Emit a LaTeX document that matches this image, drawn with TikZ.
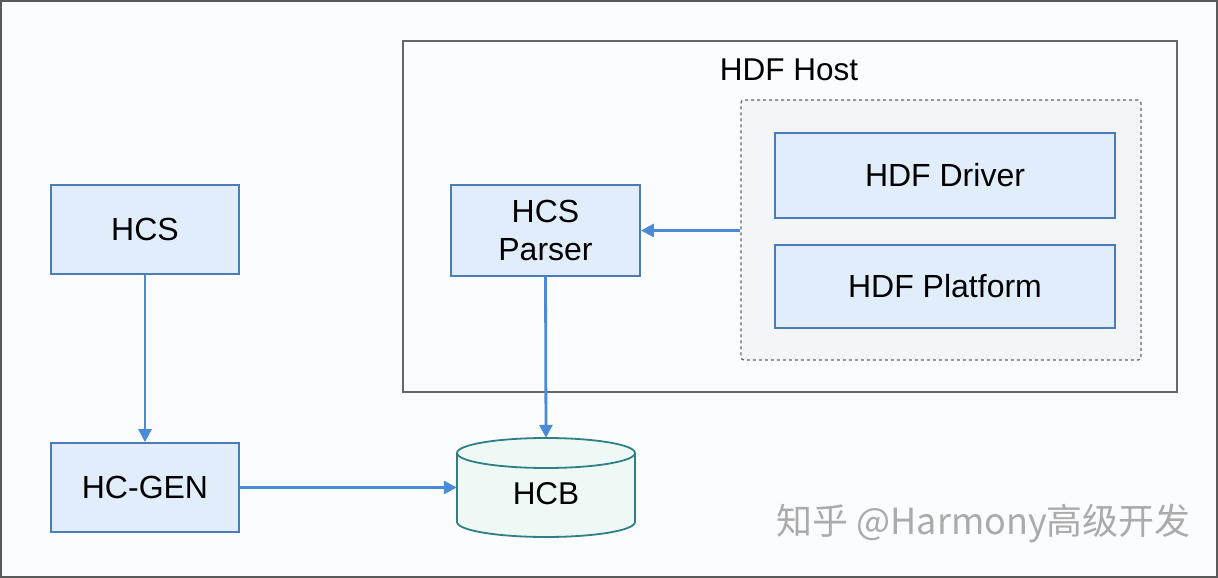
\documentclass[tikz,border=0pt]{standalone}
\usepackage{fontspec}
\setmainfont{Liberation Sans}
\newfontfamily\cjk{Noto Sans CJK SC}
\usetikzlibrary{arrows.meta}
\definecolor{bg}{HTML}{FBFCFE}
\definecolor{boxfill}{HTML}{E1EDFA}
\definecolor{boxline}{HTML}{4A7DB5}
\definecolor{arrowc}{HTML}{4A8AD6}
\definecolor{cylfill}{HTML}{EEF9F5}
\definecolor{cylline}{HTML}{2F7F86}
\definecolor{dashfill}{HTML}{F4F5F8}
\begin{document}
\begin{tikzpicture}[x=1pt,y=-1pt,
  bluebox/.style={draw=boxline, fill=boxfill, line width=1.8pt, inner sep=0pt,
    font=\fontsize{32}{38}\selectfont, align=center},
  conn/.style={draw=arrowc, line width=2.8pt, -{Triangle[length=13pt,width=13pt]}}]
\useasboundingbox (0,0) rectangle (1218,578);
\fill[bg] (0,0) rectangle (1218,578);
\draw[color=black!65, line width=2.5pt] (1,1) rectangle (1217,577);
% HDF host
\node[draw=black!60, line width=1.4pt, minimum width=774pt, minimum height=351pt, inner sep=0pt] (host) at (790,216.5) {};
\node[font=\fontsize{31.5}{36}\selectfont] (hostlbl) at (789,70) {HDF Host};
\node[draw=black!60, dashed, fill=dashfill, line width=1.3pt, rounded corners=3pt, minimum width=400pt, minimum height=260pt, inner sep=0pt] (dash) at (941,230) {};
\node[bluebox, minimum width=340pt, minimum height=85pt] (drv) at (945,175.5) {HDF Driver};
\node[bluebox, minimum width=340pt, minimum height=83pt] (plat) at (945,286.5) {HDF Platform};
\node[bluebox, minimum width=189pt, minimum height=91pt] (parser) at (545.5,230.5) {HCS\\Parser};
\node[bluebox, minimum width=188pt, minimum height=89pt] (hcs) at (145,229.5) {HCS};
\node[bluebox, minimum width=188pt, minimum height=89pt] (gen) at (145,487.5) {HC-GEN};
% HCB cylinder
\node[minimum width=178pt, minimum height=99pt, inner sep=0pt] (hcb) at (546,487.5) {};
\draw[draw=cylline, fill=cylfill, line width=1.8pt]
  (457,453) -- (457,522) arc[start angle=180, end angle=360, x radius=89, y radius=-15]
  -- (635,453) arc[start angle=0, end angle=180, x radius=89, y radius=-15] -- cycle;
\draw[draw=cylline, line width=1.8pt] (457,453) arc[start angle=180, end angle=360, x radius=89, y radius=-15];
\node[font=\fontsize{31.5}{36}\selectfont] (hcblbl) at (546,494) {HCB};
% connectors
\draw[conn] (hcs.south) -- (gen.north);
\draw[conn] (parser.south) -- (hcb.north);
\draw[conn] (gen.east) -- (hcb.west);
\draw[conn] (dash.west |- parser.east) -- (parser.east);
% watermark
\node[text=black!33, font=\cjk\fontsize{36}{40}\selectfont, anchor=west] (wm) at (773,524) {知乎 @Harmony高级开发};
\end{tikzpicture}
\end{document}
